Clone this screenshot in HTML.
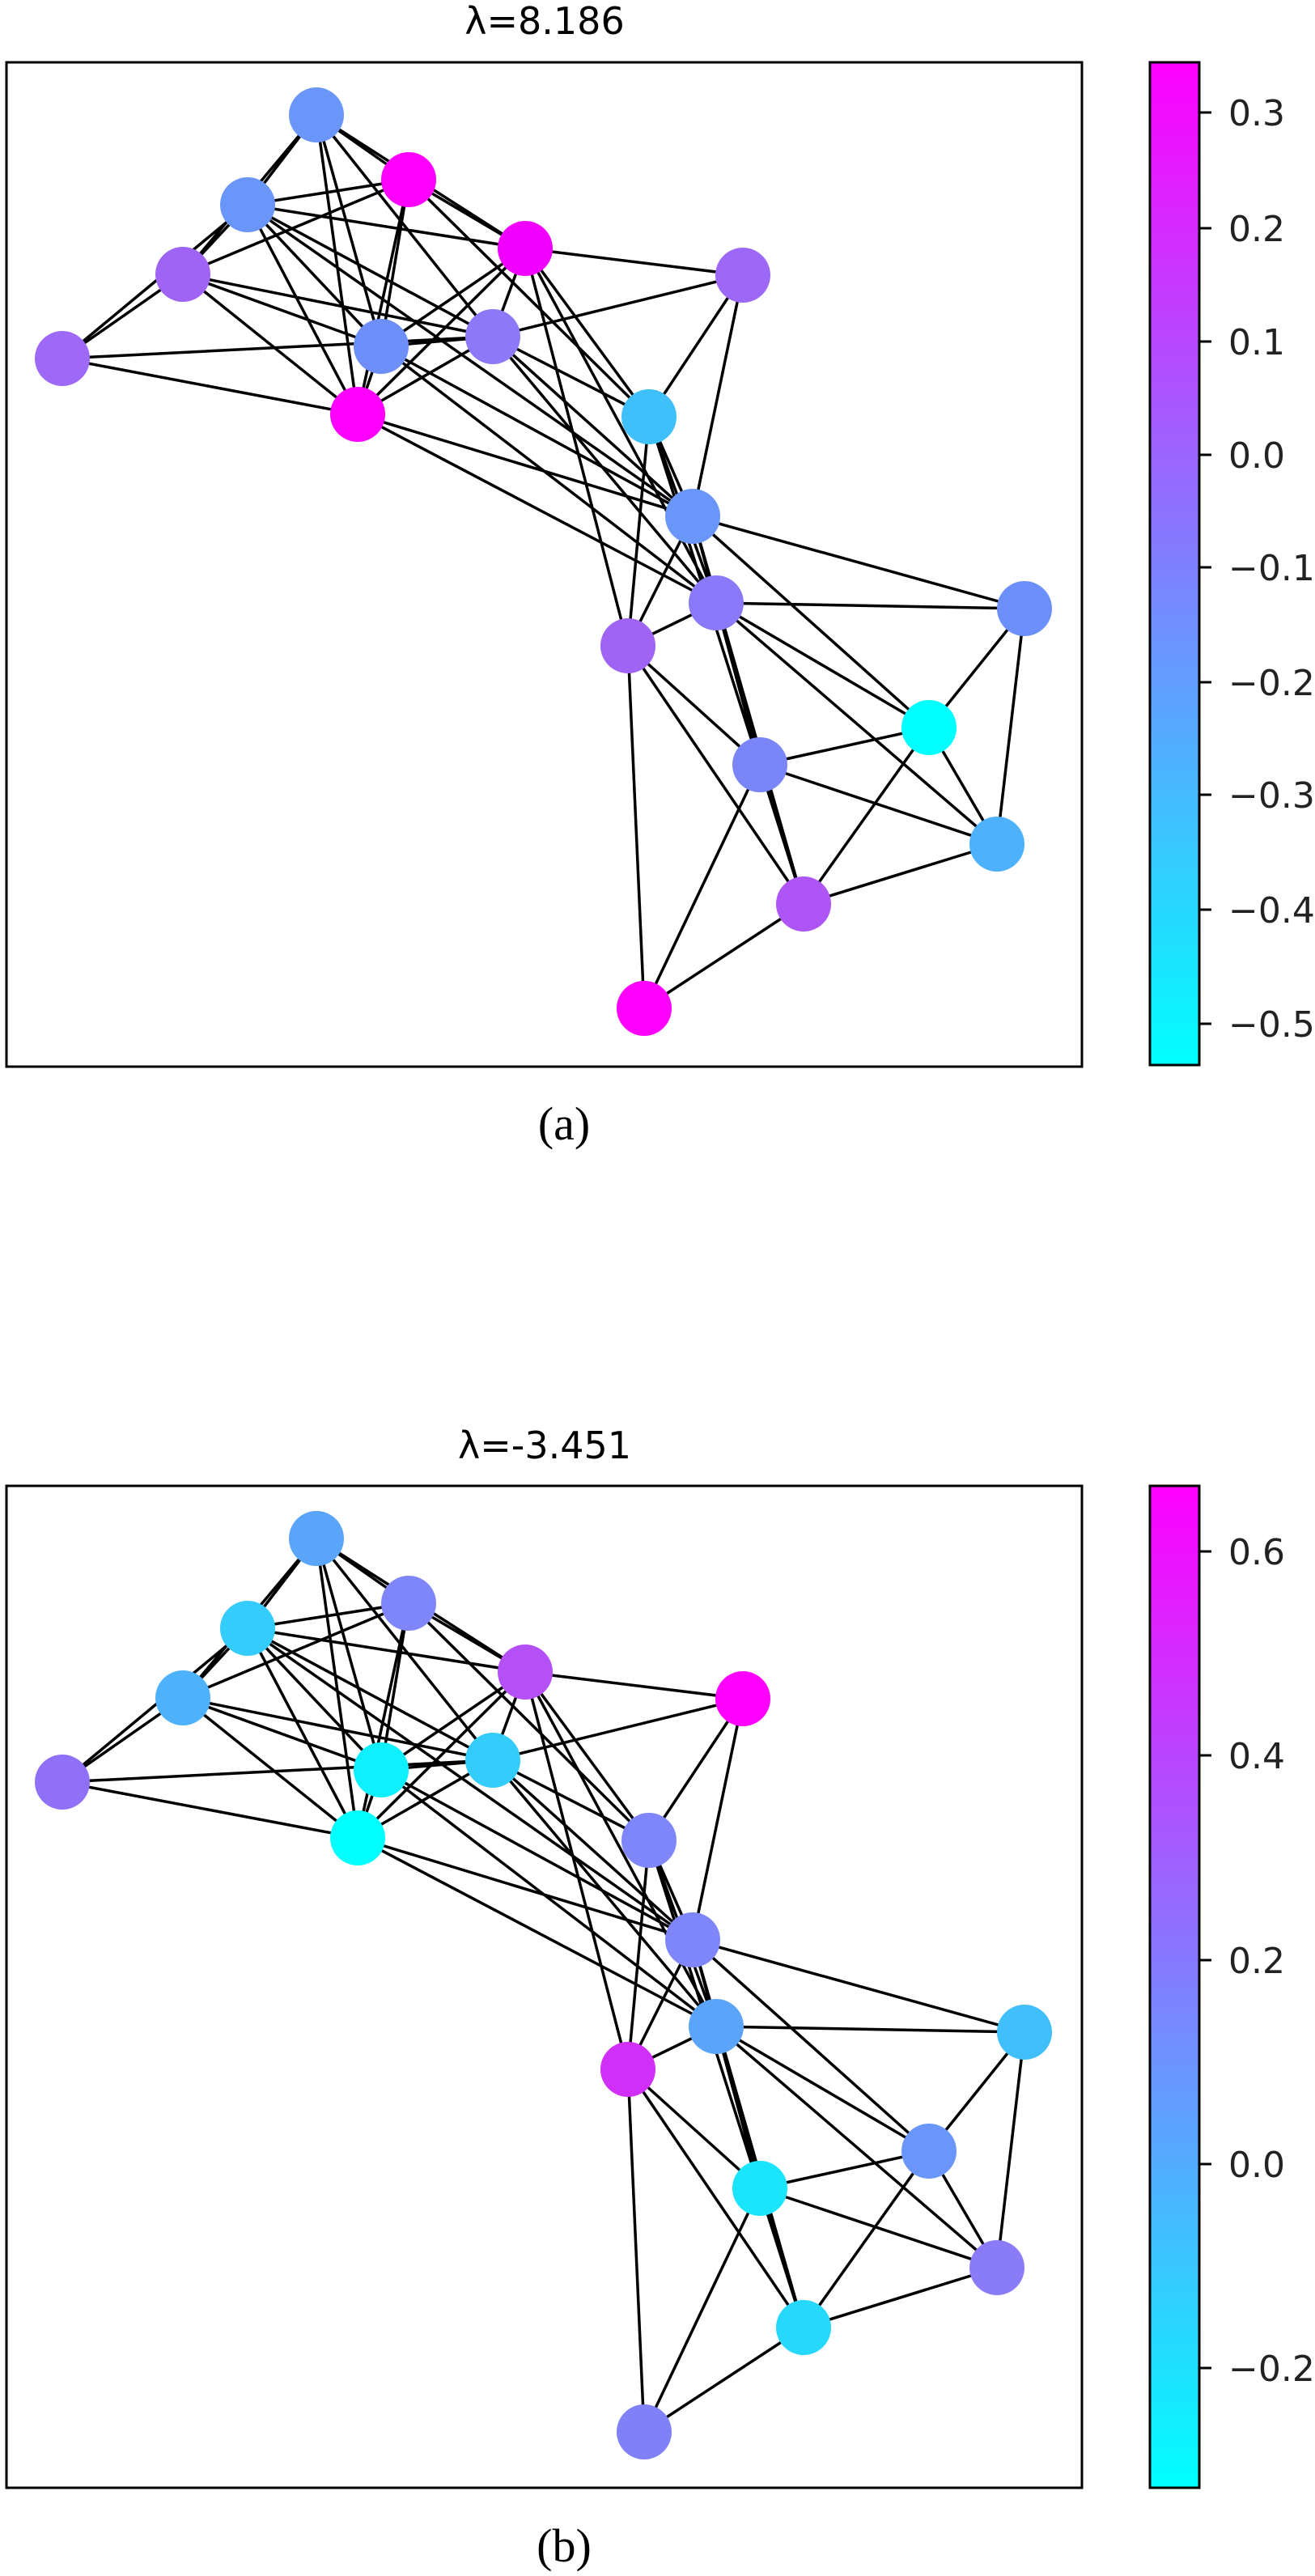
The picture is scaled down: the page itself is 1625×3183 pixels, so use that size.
<!DOCTYPE html>
<html><head><meta charset="utf-8"><style>html,body{margin:0;padding:0;background:#fff}svg{display:block}</style></head>
<body>
<svg width="1625" height="3183" viewBox="0 0 1625 3183" xmlns="http://www.w3.org/2000/svg">
<defs>
<linearGradient id="cool" x1="0" y1="1" x2="0" y2="0">
<stop offset="0" stop-color="#00ffff"/><stop offset="1" stop-color="#ff00ff"/>
</linearGradient>
<g id="edges" stroke="#000" stroke-width="3.5" fill="none">
<path d="M391 142L505 222M391 142L306 253M391 142L649 307M391 142L471 428M391 142L442 512M391 142L609 416M391 142L226 339
M505 222L306 253M505 222L226 339M505 222L471 428M505 222L442 512M505 222L649 307M505 222L802 515
M306 253L226 339M306 253L77 443M306 253L649 307M306 253L471 428M306 253L442 512M306 253L609 416M306 253L856 638
M226 339L77 443M226 339L471 428M226 339L609 416M226 339L442 512
M77 443L442 512M77 443L609 416
M471 428L649 307M471 428L609 416M471 428L856 638M471 428L885 745M471 428L442 512
M609 416L918 340M609 416L649 307M609 416L442 512M609 416L802 515M609 416L885 745M609 416L856 638
M442 512L649 307M442 512L856 638M442 512L885 745
M649 307L918 340M649 307L802 515M649 307L776 798M649 307L885 745
M918 340L802 515M918 340L856 638
M802 515L856 638M802 515L885 745M802 515L776 798M802 515L993 1117
M856 638L885 745M856 638L776 798M856 638L1266 752M856 638L1148 899M856 638L993 1117
M885 745L1266 752M885 745L776 798M885 745L1148 899M885 745L1232 1043M885 745L939 945M885 745L993 1117
M776 798L939 945M776 798L796 1246M776 798L993 1117
M1266 752L1148 899M1266 752L1232 1043
M1148 899L939 945M1148 899L1232 1043M1148 899L993 1117
M939 945L1232 1043M939 945L796 1246
M993 1117L1232 1043M993 1117L796 1246"/>
</g>
</defs>

<!-- Panel (a) -->
<text x="673" y="42" font-family="DejaVu Sans, sans-serif" font-size="46" text-anchor="middle">λ=8.186</text>
<rect x="8" y="77" width="1329" height="1241" fill="#fff" stroke="#000" stroke-width="3"/>
<use href="#edges"/>
<g>
<circle cx="391" cy="142" r="34" fill="#6a96f9"/>
<circle cx="505" cy="222" r="34" fill="#ff00ff"/>
<circle cx="306" cy="253" r="34" fill="#6a96f9"/>
<circle cx="649" cy="307" r="34" fill="#f200ff"/>
<circle cx="918" cy="340" r="34" fill="#9d68f6"/>
<circle cx="226" cy="339" r="34" fill="#a064f5"/>
<circle cx="77" cy="443" r="34" fill="#9d69f6"/>
<circle cx="471" cy="428" r="34" fill="#6e8ffa"/>
<circle cx="609" cy="416" r="34" fill="#8d78f8"/>
<circle cx="442" cy="512" r="34" fill="#ff00ff"/>
<circle cx="802" cy="515" r="34" fill="#3fc0fb"/>
<circle cx="856" cy="638" r="34" fill="#6a96f9"/>
<circle cx="885" cy="745" r="34" fill="#8a79f8"/>
<circle cx="1266" cy="752" r="34" fill="#6d8ffa"/>
<circle cx="776" cy="798" r="34" fill="#a064f5"/>
<circle cx="1148" cy="899" r="34" fill="#00ffff"/>
<circle cx="939" cy="945" r="34" fill="#7a86f8"/>
<circle cx="1232" cy="1043" r="34" fill="#4db2fb"/>
<circle cx="993" cy="1117" r="34" fill="#ad55f5"/>
<circle cx="796" cy="1246" r="34" fill="#ff00ff"/>
</g>
<rect x="1421" y="77" width="61" height="1239" fill="url(#cool)" stroke="#000" stroke-width="3"/>
<g stroke="#000" stroke-width="3">
<path d="M1482 139h15M1482 282h15M1482 422h15M1482 562h15M1482 701h15M1482 843h15M1482 982h15M1482 1124h15M1482 1265h15"/>
</g>
<g font-family="DejaVu Sans, sans-serif" font-size="44" fill="#222">
<text x="1518" y="155">0.3</text>
<text x="1518" y="298">0.2</text>
<text x="1518" y="438">0.1</text>
<text x="1518" y="578">0.0</text>
<text x="1518" y="717">−0.1</text>
<text x="1518" y="859">−0.2</text>
<text x="1518" y="998">−0.3</text>
<text x="1518" y="1140">−0.4</text>
<text x="1518" y="1281">−0.5</text>
</g>
<text x="697" y="1408" font-family="Liberation Serif, serif" font-size="58" text-anchor="middle">(a)</text>

<!-- Panel (b) -->
<text x="673" y="1802" font-family="DejaVu Sans, sans-serif" font-size="46" text-anchor="middle">λ=-3.451</text>
<rect x="8" y="1836" width="1329" height="1238" fill="#fff" stroke="#000" stroke-width="3"/>
<g transform="translate(0,1759)">
<use href="#edges"/>
<circle cx="391" cy="142" r="34" fill="#5aa5fa"/>
<circle cx="505" cy="222" r="34" fill="#7f86f9"/>
<circle cx="306" cy="253" r="34" fill="#33ccfb"/>
<circle cx="649" cy="307" r="34" fill="#b450f5"/>
<circle cx="918" cy="340" r="34" fill="#ff00ff"/>
<circle cx="226" cy="339" r="34" fill="#4db2fb"/>
<circle cx="77" cy="443" r="34" fill="#9070f7"/>
<circle cx="471" cy="428" r="34" fill="#0ef0fe"/>
<circle cx="609" cy="416" r="34" fill="#33ccfb"/>
<circle cx="442" cy="512" r="34" fill="#00ffff"/>
<circle cx="802" cy="515" r="34" fill="#7f86f9"/>
<circle cx="856" cy="638" r="34" fill="#7f86f9"/>
<circle cx="885" cy="745" r="34" fill="#5aa5fa"/>
<circle cx="1266" cy="752" r="34" fill="#40bffb"/>
<circle cx="776" cy="798" r="34" fill="#d02ff8"/>
<circle cx="1148" cy="899" r="34" fill="#6a96f9"/>
<circle cx="939" cy="945" r="34" fill="#1ae5fd"/>
<circle cx="1232" cy="1043" r="34" fill="#8a7cf8"/>
<circle cx="993" cy="1117" r="34" fill="#27d8fd"/>
<circle cx="796" cy="1246" r="34" fill="#8080f8"/>
</g>
<rect x="1421" y="1836" width="61" height="1238" fill="url(#cool)" stroke="#000" stroke-width="3"/>
<g stroke="#000" stroke-width="3">
<path d="M1482 1917h15M1482 2169h15M1482 2422h15M1482 2674h15M1482 2926h15"/>
</g>
<g font-family="DejaVu Sans, sans-serif" font-size="44" fill="#222">
<text x="1518" y="1933">0.6</text>
<text x="1518" y="2185">0.4</text>
<text x="1518" y="2438">0.2</text>
<text x="1518" y="2690">0.0</text>
<text x="1518" y="2942">−0.2</text>
</g>
<text x="697" y="3165" font-family="Liberation Serif, serif" font-size="58" text-anchor="middle">(b)</text>
</svg>
</body></html>
